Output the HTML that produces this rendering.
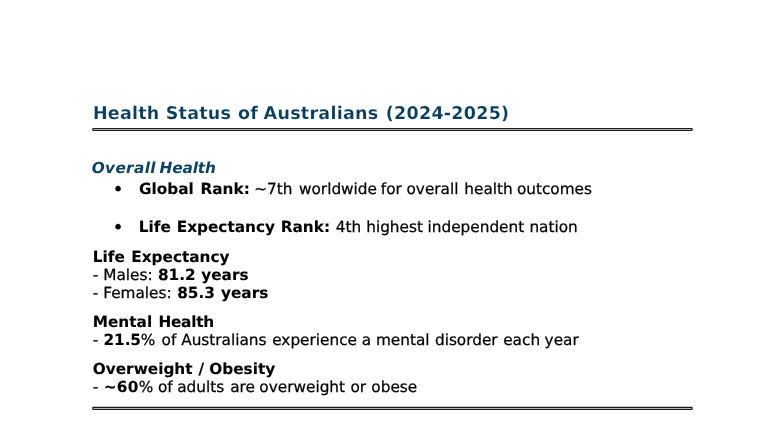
<!DOCTYPE html>
<html lang="en">
<head>
<meta charset="utf-8">
<title>Health Status of Australians (2024-2025)</title>
<style>
html,body{margin:0;padding:0;background:#fff;}
body{width:784px;height:441px;position:relative;overflow:hidden;font-family:"DejaVu Sans","Liberation Sans",sans-serif;color:#000;text-rendering:geometricPrecision;}
.l{position:absolute;left:0.2px;width:784px;white-space:nowrap;font-size:15.3px;line-height:20px;height:20px;}
.l span{position:absolute;top:0;}
.t{font-size:17.5px;font-weight:bold;color:#0a3e5c;letter-spacing:0.26px;}
.s{font-weight:bold;font-style:italic;color:#0d4360;}
.dot{position:absolute;left:112.2px;font-size:19.7px;line-height:24px;height:24px;white-space:nowrap;}
svg.hr{position:absolute;left:0;top:0;width:784px;height:441px;pointer-events:none;}
.l{-webkit-text-stroke:0.25px currentColor;}
.l b{-webkit-text-stroke:0.1px currentColor;}
.t{-webkit-text-stroke:0.15px #fff;}
.s{-webkit-text-stroke:0;}
b{font-weight:bold;}
</style>
</head>
<body>
<svg class="hr" viewBox="0 0 784 441">
<rect x="92.75" y="128.5" width="599.4" height="1.9" rx="0.6" ry="0.6" fill="#e6e6e6" stroke="#1a1a1a" stroke-width="1.2"/>
<rect x="92.75" y="407.4" width="599.4" height="1.9" rx="0.6" ry="0.6" fill="#e6e6e6" stroke="#1a1a1a" stroke-width="1.2"/>
</svg>
<div class="dot" id="d1" style="top:178px">•</div>
<div class="dot" id="d2" style="top:216px">•</div>
<div class="l t" id="title" style="top:104px"><span id="title_0" style="left:92.69px">Health</span> <span id="title_1" style="left:165.47px">Status</span> <span id="title_2" style="left:237.72px">of</span> <span id="title_3" style="left:263.43px">Australians</span> <span id="title_4" style="left:385.66px">(2024-2025)</span></div>
<div class="l s" id="sub" style="top:158px"><span id="sub_0" style="left:91.59px;letter-spacing:0.33px">Overall</span> <span id="sub_1" style="left:159.42px;letter-spacing:-0.15px">Health</span></div>
<div class="l " id="b1" style="top:179px"><span id="b1_0" style="left:138.79px"><b>Global</b></span> <span id="b1_1" style="left:200.3px"><b>Rank:</b></span> <span id="b1_2" style="left:254.07px">~7th</span> <span id="b1_3" style="left:298.79px">worldwide</span> <span id="b1_4" style="left:380.68px">for</span> <span id="b1_5" style="left:406.31px">overall</span> <span id="b1_6" style="left:464.18px">health</span> <span id="b1_7" style="left:516.69px">outcomes</span></div>
<div class="l " id="b2" style="top:217px"><span id="b2_0" style="left:138.59px"><b>Life</b></span> <span id="b2_1" style="left:176.5px"><b>Expectancy</b></span> <span id="b2_2" style="left:280.56px"><b>Rank:</b></span> <span id="b2_3" style="left:335.53px">4th</span> <span id="b2_4" style="left:366.04px">highest</span> <span id="b2_5" style="left:427.35px">independent</span> <span id="b2_6" style="left:529.23px">nation</span></div>
<div class="l " id="h1" style="top:247px"><span id="h1_0" style="left:92.59px"><b>Life</b></span> <span id="h1_1" style="left:131.1px"><b>Expectancy</b></span></div>
<div class="l " id="p1" style="top:265px"><span id="p1_0" style="left:92.59px">-</span> <span id="p1_1" style="left:103px">Males:</span> <span id="p1_2" style="left:157.73px"><b>81.2</b></span> <span id="p1_3" style="left:201.06px"><b>years</b></span></div>
<div class="l " id="p2" style="top:283px"><span id="p2_0" style="left:92.59px">-</span> <span id="p2_1" style="left:103px">Females:</span> <span id="p2_2" style="left:177.01px"><b>85.3</b></span> <span id="p2_3" style="left:220.84px"><b>years</b></span></div>
<div class="l " id="h2" style="top:312px"><span id="h2_0" style="left:92.59px"><b>Mental</b></span> <span id="h2_1" style="left:158.24px;letter-spacing:-0.25px"><b>Health</b></span></div>
<div class="l " id="p3" style="top:330px"><span id="p3_0" style="left:92.59px">-</span> <span id="p3_1" style="left:103.4px;letter-spacing:-0.12px"><b>21.5</b>%</span> <span id="p3_2" style="left:161.37px">of</span> <span id="p3_3" style="left:181.0px">Australians</span> <span id="p3_4" style="left:272.0px">experience</span> <span id="p3_5" style="left:361.47px">a</span> <span id="p3_6" style="left:375.72px">mental</span> <span id="p3_7" style="left:434.74px">disorder</span> <span id="p3_8" style="left:503.03px">each</span> <span id="p3_9" style="left:544.4px">year</span></div>
<div class="l " id="h3" style="top:359px"><span id="h3_0" style="left:92.59px"><b>Overweight</b></span> <span id="h3_1" style="left:198.27px"><b>/</b></span> <span id="h3_2" style="left:209.03px"><b>Obesity</b></span></div>
<div class="l " id="p4" style="top:377px"><span id="p4_0" style="left:92.59px">-</span> <span id="p4_1" style="left:103.5px;letter-spacing:0.3px"><b>~60</b>%</span> <span id="p4_2" style="left:157.83px">of</span> <span id="p4_3" style="left:177.06px">adults</span> <span id="p4_4" style="left:230.03px">are</span> <span id="p4_5" style="left:259.16px">overweight</span> <span id="p4_6" style="left:350.32px">or</span> <span id="p4_7" style="left:371.15px">obese</span></div>
</body>
</html>
